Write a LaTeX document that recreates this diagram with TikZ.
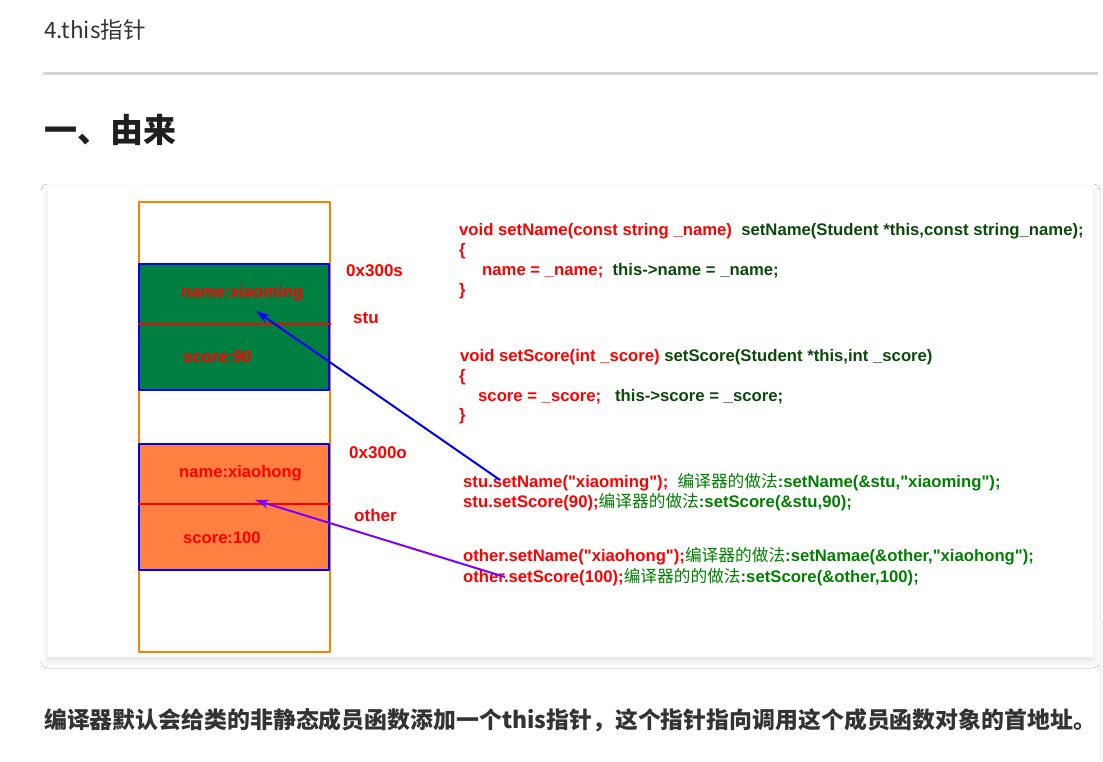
\documentclass[tikz,border=0pt]{standalone}
\usepackage{fontspec}
\setmainfont{Liberation Sans}
\newfontfamily\codefont{Liberation Sans}
\newfontfamily\cjk{Noto Sans CJK SC}
\usetikzlibrary{arrows.meta,shadows.blur}

\definecolor{memorange}{HTML}{FF8000}
\definecolor{stugreen}{HTML}{008040}
\definecolor{otherorange}{HTML}{FF8040}
\definecolor{codered}{HTML}{FF0000}
\definecolor{codegreen}{HTML}{0B4A0B}
\definecolor{callgreen}{HTML}{008000}
\definecolor{ptrpurple}{HTML}{8000FF}
\definecolor{pagetext}{HTML}{333333}
\definecolor{rulegray}{HTML}{D3D5D8}

\newcommand{\red}[1]{\textcolor{codered}{#1}}
\newcommand{\grn}[1]{\textcolor{codegreen}{#1}}
\newcommand{\cgrn}[1]{\textcolor{callgreen}{#1}}
\newcommand{\zh}[1]{{\cjk\mdseries #1}}

\tikzset{
  codetext/.style={font=\codefont\bfseries\fontsize{16.7}{19}\selectfont, anchor=base west, inner sep=0pt},
  boxtext/.style={font=\codefont\bfseries\fontsize{16.6}{19}\selectfont, text=codered, anchor=base west, inner sep=0pt},
  addrtext/.style={font=\codefont\bfseries\fontsize{17}{19}\selectfont, text=codered, anchor=base west, inner sep=0pt},
  objbox/.style={draw=blue, line width=2.2pt, anchor=north west, minimum width=190pt, minimum height=126pt, inner sep=0pt},
  divider/.style={codered, line width=1.3pt},
  pointer/.style={line width=2pt, -{Stealth[length=14pt,width=9pt]}}
}

\begin{document}
\begin{tikzpicture}[x=1pt,y=-1pt,line join=round]
  \useasboundingbox (0,0) rectangle (1103,761);
  \fill[white] (0,0) rectangle (1103,761);

  % page header
  \node[font=\cjk\fontsize{22.5}{26}\selectfont, text=pagetext, anchor=base west, inner sep=0pt] (title) at (44,38) {4.this指针};
  \draw[rulegray, line width=3pt] (43,73) -- (1098,73);
  \node[font=\cjk\bfseries\fontsize{33}{38}\selectfont, text=black!88, anchor=base west, inner sep=0pt] (heading) at (44,142) {一、由来};

  % card
  \fill[white, blur shadow={shadow xshift=0pt, shadow yshift=-4pt, shadow blur radius=7pt, shadow opacity=12}] (48,187) rectangle (1093,657);
  \fill[black!4] (1099,620) rectangle (1103,761);

  % memory column
  \node[draw=memorange, line width=2.4pt, anchor=north west, minimum width=191pt, minimum height=450pt, inner sep=0pt] (mem) at (138,201) {};

  % object stu
  \node[objbox, fill=stugreen] (stu) at (138,263) {};
  \draw[divider] (stu.west |- 0,324) -- (331,324);
  \node[boxtext] (stuname) at (181,297) {name:xiaoming};
  \node[boxtext] (stuscore) at (183,362) {score:90};
  \node[addrtext] (stuaddr) at (346,276) {0x300s};
  \node[addrtext] (stulabel) at (353,323) {stu};

  % object other
  \node[objbox, fill=otherorange] (other) at (138,443) {};
  \draw[divider] (other.west |- 0,504) -- (330,504);
  \node[boxtext] (othername) at (179,477) {name:xiaohong};
  \node[boxtext] (otherscore) at (183,543) {score:100};
  \node[addrtext] (otheraddr) at (349,458) {0x300o};
  \node[addrtext] (otherlabel) at (354,521) {other};

  % member functions
  \node[codetext] (setname) at (459,235) {\red{void setName(const string \_name)}\ \ \grn{setName(Student *this,const string\_name);}};
  \node[codetext] (setnameopen) at (459,255) {\red{\{}};
  \node[codetext] (setnamebody) at (482,275) {\red{name = \_name;}\ \ \grn{this->name = \_name;}};
  \node[codetext] (setnameclose) at (459,295) {\red{\}}};

  \node[codetext] (setscore) at (460,361) {\red{void setScore(int \_score)} \grn{setScore(Student *this,int \_score)}};
  \node[codetext] (setscoreopen) at (459,381) {\red{\{}};
  \node[codetext] (setscorebody) at (478,401) {\red{score = \_score;}\ \ \ \grn{this->score = \_score;}};
  \node[codetext] (setscoreclose) at (459,420) {\red{\}}};

  % calls
  \node[codetext] (stucall) at (463,487) {\red{stu.setName("xiaoming");}\ \ \cgrn{\zh{编译器的做法}:setName(\&stu,"xiaoming");}};
  \node[codetext] (stuscorecall) at (463,507) {\red{stu.setScore(90);}\cgrn{\zh{编译器的做法}:setScore(\&stu,90);}};
  \node[codetext] (othercall) at (463,561) {\red{other.setName("xiaohong");}\cgrn{\zh{编译器的做法}:setNamae(\&other,"xiaohong");}};
  \node[codetext] (otherscorecall) at (463,582) {\red{other.setScore(100);}\cgrn{\zh{编译器的的做法}:setScore(\&other,100);}};

  % this pointers
  \coordinate (stutail) at (500,480);
  \coordinate (stutip) at (256,311);
  \coordinate (othertail) at (505,577);
  \coordinate (othertip) at (255,500);
  \draw[pointer, blue] (stutail) -- (stutip);
  \draw[pointer, ptrpurple] (othertail) -- (othertip);

  % summary
  \node[font=\cjk\bfseries\fontsize{22.9}{26}\selectfont, text=pagetext, anchor=base west, inner sep=0pt] (summary) at (44,728) {编译器默认会给类的非静态成员函数添加一个this指针，这个指针指向调用这个成员函数对象的首地址。};
\end{tikzpicture}
\end{document}
